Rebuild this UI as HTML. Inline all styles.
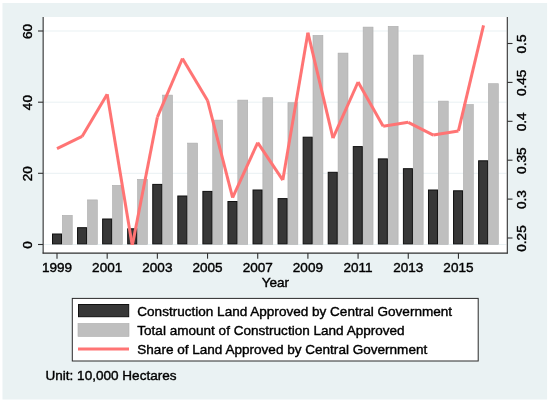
<!DOCTYPE html>
<html><head><meta charset="utf-8"><title>Construction Land Approved</title>
<style>
html,body{margin:0;padding:0;background:#fff;}
svg{display:block;font-family:"Liberation Sans",sans-serif;font-size:13.55px;fill:#000;}
text{stroke:#000;stroke-width:0.4px;}
</style></head><body>
<svg width="550" height="402" viewBox="0 0 550 402">
<rect x="0" y="0" width="550" height="402" fill="#ffffff"/>
<rect x="2.5" y="3" width="544.6" height="396.5" fill="#eaf2f3"/>
<rect x="43.2" y="17" width="464.3" height="235.8" fill="#ffffff"/>

<line x1="44" y1="31" x2="506.5" y2="31" stroke="#e9f1f3" stroke-width="1"/>
<line x1="44" y1="102.2" x2="506.5" y2="102.2" stroke="#e9f1f3" stroke-width="1"/>
<line x1="44" y1="173.3" x2="506.5" y2="173.3" stroke="#e9f1f3" stroke-width="1"/>
<line x1="44" y1="244.5" x2="506.5" y2="244.5" stroke="#e9f1f3" stroke-width="1"/>
<rect x="62.35" y="215.30" width="9.9" height="29.00" fill="#bfbfbf" stroke="#adadad" stroke-width="0.6"/>
<rect x="52.50" y="234.00" width="9.0" height="9.90" fill="#373737" stroke="#101010" stroke-width="1"/>
<rect x="87.41" y="199.90" width="9.9" height="44.40" fill="#bfbfbf" stroke="#adadad" stroke-width="0.6"/>
<rect x="77.56" y="227.70" width="9.0" height="16.20" fill="#373737" stroke="#101010" stroke-width="1"/>
<rect x="112.48" y="185.30" width="9.9" height="59.00" fill="#bfbfbf" stroke="#adadad" stroke-width="0.6"/>
<rect x="102.63" y="219.00" width="9.0" height="24.90" fill="#373737" stroke="#101010" stroke-width="1"/>
<rect x="137.55" y="179.30" width="9.9" height="65.00" fill="#bfbfbf" stroke="#adadad" stroke-width="0.6"/>
<rect x="127.70" y="228.80" width="9.0" height="15.10" fill="#373737" stroke="#101010" stroke-width="1"/>
<rect x="162.61" y="95.10" width="9.9" height="149.20" fill="#bfbfbf" stroke="#adadad" stroke-width="0.6"/>
<rect x="152.76" y="184.40" width="9.0" height="59.50" fill="#373737" stroke="#101010" stroke-width="1"/>
<rect x="187.68" y="143.10" width="9.9" height="101.20" fill="#bfbfbf" stroke="#adadad" stroke-width="0.6"/>
<rect x="177.82" y="196.00" width="9.0" height="47.90" fill="#373737" stroke="#101010" stroke-width="1"/>
<rect x="212.74" y="120.10" width="9.9" height="124.20" fill="#bfbfbf" stroke="#adadad" stroke-width="0.6"/>
<rect x="202.89" y="191.40" width="9.0" height="52.50" fill="#373737" stroke="#101010" stroke-width="1"/>
<rect x="237.81" y="100.10" width="9.9" height="144.20" fill="#bfbfbf" stroke="#adadad" stroke-width="0.6"/>
<rect x="227.95" y="201.50" width="9.0" height="42.40" fill="#373737" stroke="#101010" stroke-width="1"/>
<rect x="262.87" y="97.70" width="9.9" height="146.60" fill="#bfbfbf" stroke="#adadad" stroke-width="0.6"/>
<rect x="253.02" y="190.00" width="9.0" height="53.90" fill="#373737" stroke="#101010" stroke-width="1"/>
<rect x="287.94" y="102.70" width="9.9" height="141.60" fill="#bfbfbf" stroke="#adadad" stroke-width="0.6"/>
<rect x="278.08" y="198.60" width="9.0" height="45.30" fill="#373737" stroke="#101010" stroke-width="1"/>
<rect x="313.00" y="35.40" width="9.9" height="208.90" fill="#bfbfbf" stroke="#adadad" stroke-width="0.6"/>
<rect x="303.15" y="137.20" width="9.0" height="106.70" fill="#373737" stroke="#101010" stroke-width="1"/>
<rect x="338.07" y="53.10" width="9.9" height="191.20" fill="#bfbfbf" stroke="#adadad" stroke-width="0.6"/>
<rect x="328.22" y="172.30" width="9.0" height="71.60" fill="#373737" stroke="#101010" stroke-width="1"/>
<rect x="363.13" y="27.10" width="9.9" height="217.20" fill="#bfbfbf" stroke="#adadad" stroke-width="0.6"/>
<rect x="353.28" y="146.60" width="9.0" height="97.30" fill="#373737" stroke="#101010" stroke-width="1"/>
<rect x="388.20" y="26.30" width="9.9" height="218.00" fill="#bfbfbf" stroke="#adadad" stroke-width="0.6"/>
<rect x="378.35" y="158.90" width="9.0" height="85.00" fill="#373737" stroke="#101010" stroke-width="1"/>
<rect x="413.26" y="55.10" width="9.9" height="189.20" fill="#bfbfbf" stroke="#adadad" stroke-width="0.6"/>
<rect x="403.41" y="168.70" width="9.0" height="75.20" fill="#373737" stroke="#101010" stroke-width="1"/>
<rect x="438.33" y="101.10" width="9.9" height="143.20" fill="#bfbfbf" stroke="#adadad" stroke-width="0.6"/>
<rect x="428.48" y="190.00" width="9.0" height="53.90" fill="#373737" stroke="#101010" stroke-width="1"/>
<rect x="463.39" y="104.50" width="9.9" height="139.80" fill="#bfbfbf" stroke="#adadad" stroke-width="0.6"/>
<rect x="453.54" y="190.80" width="9.0" height="53.10" fill="#373737" stroke="#101010" stroke-width="1"/>
<rect x="488.46" y="83.70" width="9.9" height="160.60" fill="#bfbfbf" stroke="#adadad" stroke-width="0.6"/>
<rect x="478.61" y="160.80" width="9.0" height="83.10" fill="#373737" stroke="#101010" stroke-width="1"/>
<clipPath id="pc"><rect x="44" y="17" width="463" height="227.9"/></clipPath>
<g stroke="#ff7474" stroke-width="3" stroke-linecap="butt" fill="none" clip-path="url(#pc)">
<line x1="57.00" y1="148.6" x2="82.09" y2="136.4"/>
<line x1="82.09" y1="136.4" x2="107.18" y2="94.3"/>
<line x1="107.18" y1="94.3" x2="132.27" y2="245.6"/>
<line x1="132.27" y1="245.6" x2="157.36" y2="117.2"/>
<line x1="157.36" y1="117.2" x2="182.45" y2="58.5"/>
<line x1="182.45" y1="58.5" x2="207.54" y2="100.4"/>
<line x1="207.54" y1="100.4" x2="232.63" y2="197.6"/>
<line x1="232.63" y1="197.6" x2="257.72" y2="142.6"/>
<line x1="257.72" y1="142.6" x2="282.81" y2="180.1"/>
<line x1="282.81" y1="180.1" x2="307.90" y2="32.7"/>
<line x1="307.90" y1="32.7" x2="332.99" y2="138.1"/>
<line x1="332.99" y1="138.1" x2="358.08" y2="82.0"/>
<line x1="358.08" y1="82.0" x2="383.17" y2="126.3"/>
<line x1="383.17" y1="126.3" x2="408.26" y2="122.3"/>
<line x1="408.26" y1="122.3" x2="433.35" y2="135.1"/>
<line x1="433.35" y1="135.1" x2="458.44" y2="130.9"/>
<line x1="458.44" y1="130.9" x2="483.53" y2="25.4"/>
</g>
<g stroke="#303030" stroke-width="1.1" fill="none">
<line x1="43.15" y1="17" x2="43.15" y2="253.6"/>
<line x1="507.3" y1="17" x2="507.3" y2="253.6"/>
<line x1="42.6" y1="253.1" x2="507.8" y2="253.1"/>
<line x1="38" y1="31" x2="43.15" y2="31"/>
<line x1="38" y1="102.2" x2="43.15" y2="102.2"/>
<line x1="38" y1="173.3" x2="43.15" y2="173.3"/>
<line x1="38" y1="244.5" x2="43.15" y2="244.5"/>
<line x1="507.3" y1="43.5" x2="512.5" y2="43.5"/>
<line x1="507.3" y1="82.4" x2="512.5" y2="82.4"/>
<line x1="507.3" y1="121.3" x2="512.5" y2="121.3"/>
<line x1="507.3" y1="160.2" x2="512.5" y2="160.2"/>
<line x1="507.3" y1="199.1" x2="512.5" y2="199.1"/>
<line x1="507.3" y1="238.0" x2="512.5" y2="238.0"/>
<line x1="57.00" y1="253.1" x2="57.00" y2="258.7"/>
<line x1="107.18" y1="253.1" x2="107.18" y2="258.7"/>
<line x1="157.36" y1="253.1" x2="157.36" y2="258.7"/>
<line x1="207.54" y1="253.1" x2="207.54" y2="258.7"/>
<line x1="257.72" y1="253.1" x2="257.72" y2="258.7"/>
<line x1="307.90" y1="253.1" x2="307.90" y2="258.7"/>
<line x1="358.08" y1="253.1" x2="358.08" y2="258.7"/>
<line x1="408.26" y1="253.1" x2="408.26" y2="258.7"/>
<line x1="458.44" y1="253.1" x2="458.44" y2="258.7"/>
</g>
<text transform="translate(31.5,31.4) rotate(-90)" text-anchor="middle">60</text>
<text transform="translate(31.5,102.6) rotate(-90)" text-anchor="middle">40</text>
<text transform="translate(31.5,173.7) rotate(-90)" text-anchor="middle">20</text>
<text transform="translate(31.5,244.9) rotate(-90)" text-anchor="middle">0</text>
<text transform="translate(525.7,44.0) rotate(-90)" text-anchor="middle">0.5</text>
<text transform="translate(525.7,82.9) rotate(-90)" text-anchor="middle">0.45</text>
<text transform="translate(525.7,121.8) rotate(-90)" text-anchor="middle">0.4</text>
<text transform="translate(525.7,160.7) rotate(-90)" text-anchor="middle">0.35</text>
<text transform="translate(525.7,199.6) rotate(-90)" text-anchor="middle">0.3</text>
<text transform="translate(525.7,238.5) rotate(-90)" text-anchor="middle">0.25</text>
<text x="57.00" y="272.4" text-anchor="middle">1999</text>
<text x="107.18" y="272.4" text-anchor="middle">2001</text>
<text x="157.36" y="272.4" text-anchor="middle">2003</text>
<text x="207.54" y="272.4" text-anchor="middle">2005</text>
<text x="257.72" y="272.4" text-anchor="middle">2007</text>
<text x="307.90" y="272.4" text-anchor="middle">2009</text>
<text x="358.08" y="272.4" text-anchor="middle">2011</text>
<text x="408.26" y="272.4" text-anchor="middle">2013</text>
<text x="458.44" y="272.4" text-anchor="middle">2015</text>
<text x="275.4" y="287" text-anchor="middle">Year</text>
<rect x="72.3" y="298.4" width="405.9" height="62.6" fill="#ffffff" stroke="#2a2a2a" stroke-width="1"/>
<rect x="78.5" y="304.5" width="50.2" height="12.2" fill="#373737" stroke="#101010" stroke-width="1"/>
<rect x="78" y="323.4" width="51" height="13.1" fill="#bfbfbf" stroke="#adadad" stroke-width="0.6"/>
<line x1="78" y1="349" x2="129" y2="349" stroke="#ff7474" stroke-width="3"/>
<text x="137.3" y="315.9">Construction Land Approved by Central Government</text>
<text x="137.3" y="335.1">Total amount of Construction Land Approved</text>
<text x="137.3" y="354.4">Share of Land Approved by Central Government</text>
<text x="45.5" y="380.2">Unit: 10,000 Hectares</text>
</svg></body></html>
